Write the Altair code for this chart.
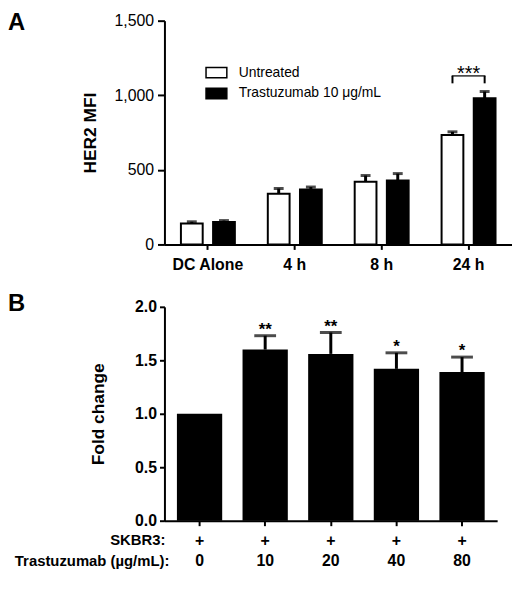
import altair as alt
import pandas as pd

FONT = "Liberation Sans, Arial, Helvetica, sans-serif"

# ---------------- Panel A data ----------------
times = ["DC Alone", "4 h", "8 h", "24 h"]
groups = ["Untreated", "Trastuzumab 10 μg/mL"]
untreated_mfi = [140, 340, 420, 733]
untreated_err = [12, 35, 42, 22]
trast_mfi = [150, 368, 428, 980]
trast_err = [10, 17, 47, 45]
a_ticks = [0, 500, 1000, 1500]

sig_time = "24 h"
sig_text = "***"
bracket_low = 1080
bracket_high = 1130

# ---------------- Panel B data ----------------
doses = ["0", "10", "20", "40", "80"]
fold = [1.00, 1.60, 1.56, 1.42, 1.39]
fold_err = [0.0, 0.13, 0.20, 0.15, 0.14]
fold_sig = ["", "**", "**", "*", "*"]
skbr3 = ["+", "+", "+", "+", "+"]
b_ticks = [0, 0.5, 1.0, 1.5, 2.0]
row_titles = ["SKBR3:", "Trastuzumab (µg/mL):"]

# ---------------- Tables ----------------
rows = []
for i, t in enumerate(times):
    rows.append({"Time": t, "Group": groups[0], "MFI": untreated_mfi[i],
                 "Upper": untreated_mfi[i] + untreated_err[i]})
    rows.append({"Time": t, "Group": groups[1], "MFI": trast_mfi[i],
                 "Upper": trast_mfi[i] + trast_err[i]})
dfA = pd.DataFrame(rows)
dfBr = pd.DataFrame([{"Time": sig_time, "Group": g, "lo": bracket_low, "hi": bracket_high}
                     for g in groups])
dfStar = pd.DataFrame([{"Time": sig_time, "hi": bracket_high, "label": sig_text}])

dfB = pd.DataFrame({"Dose": doses, "Fold": fold,
                    "Upper": [f + e for f, e in zip(fold, fold_err)],
                    "Err": fold_err, "Sig": fold_sig, "Plus": skbr3})

# ---------------- Panel A ----------------
HA = 226
WA = 351
xA = alt.X("Time:N", sort=times, scale=alt.Scale(paddingInner=0, paddingOuter=0),
           axis=alt.Axis(title=None, labelAngle=0, labelFontSize=16, labelFontWeight="bold",
                         tickSize=5, labelPadding=7))
offA = alt.XOffset("Group:N", sort=groups,
                   scale=alt.Scale(domain=groups, paddingInner=0.323, paddingOuter=0.512))
yA_axis = alt.Axis(values=a_ticks, format=",d", labelFontSize=16, labelFontWeight="normal",
                   tickSize=7, labelPadding=4, title="HER2 MFI", titleFontSize=17.5,
                   titleFontWeight="bold", titleX=-70, titleY=HA / 2,
                   titleBaseline="alphabetic")
yA_scale = alt.Scale(domain=[0, 1500])

bars = alt.Chart(dfA).mark_bar(stroke="black", strokeWidth=2).encode(
    x=xA, xOffset=offA,
    y=alt.Y("MFI:Q", scale=yA_scale, axis=yA_axis),
    fill=alt.Fill("Group:N", sort=groups,
                  scale=alt.Scale(domain=groups, range=["white", "black"]),
                  legend=alt.Legend(title=None, orient="none", legendX=41, legendY=41,
                                    symbolType="M-1,-0.5H1V0.5H-1Z", symbolSize=441,
                                    symbolStrokeColor="black", symbolStrokeWidth=1.5,
                                    labelFontSize=14, labelFont=FONT, labelColor="black",
                                    labelOffset=11, rowPadding=1, labelLimit=300)),
)
errA = alt.Chart(dfA).mark_rule(strokeWidth=3, color="black").encode(
    x=xA, xOffset=offA,
    y=alt.Y("MFI:Q", scale=yA_scale, axis=yA_axis), y2="Upper:Q")
capA = alt.Chart(dfA).mark_tick(size=10, thickness=3, color="black").encode(
    x=xA, xOffset=offA,
    y=alt.Y("Upper:Q", scale=yA_scale, axis=yA_axis))
legs = alt.Chart(dfBr).mark_rule(strokeWidth=2, color="black").encode(
    x=xA, xOffset=offA,
    y=alt.Y("lo:Q", scale=yA_scale, axis=yA_axis), y2="hi:Q")
top = alt.Chart(dfStar).mark_tick(size=34, thickness=2, color="black").encode(
    x=xA, y=alt.Y("hi:Q", scale=yA_scale, axis=yA_axis))
starsA = alt.Chart(dfStar).mark_text(fontSize=20, font=FONT, baseline="alphabetic",
                                     dy=4, color="black").encode(
    x=xA, y=alt.Y("hi:Q", scale=yA_scale, axis=yA_axis), text="label:N")
labelA = alt.Chart(pd.DataFrame({"t": ["A"]})).mark_text(
    align="left", baseline="top", fontSize=24, fontWeight="bold", font=FONT,
    color="black").encode(text="t:N", x=alt.value(-158), y=alt.value(-10))

panelA = alt.layer(bars, errA, capA, legs, top, starsA, labelA).properties(
    width=WA, height=HA)

# ---------------- Panel B ----------------
HB = 216
WB = 336
xB = alt.X("Dose:N", sort=doses, scale=alt.Scale(paddingInner=0.31, paddingOuter=0.19),
           axis=alt.Axis(title=None, labels=False, tickSize=5))
yB_scale = alt.Scale(domain=[0, 2])
yB_axis = alt.Axis(values=b_ticks, format=".1f", labelFontSize=16, labelFontWeight="bold",
                   tickSize=5, labelPadding=3, title="Fold change", titleFontSize=17.5,
                   titleFontWeight="bold", titleX=-61.5, titleY=HB / 2,
                   titleBaseline="alphabetic")

barsB = alt.Chart(dfB).mark_bar(color="black").encode(
    x=xB, y=alt.Y("Fold:Q", scale=yB_scale, axis=yB_axis))
errB = alt.Chart(dfB).transform_filter("datum.Err > 0").mark_rule(
    strokeWidth=3, color="black").encode(
    x=xB, y=alt.Y("Fold:Q", scale=yB_scale, axis=yB_axis), y2="Upper:Q")
capB = alt.Chart(dfB).transform_filter("datum.Err > 0").mark_tick(
    size=22, thickness=3, color="black").encode(
    x=xB, y=alt.Y("Upper:Q", scale=yB_scale, axis=yB_axis))
starsB = alt.Chart(dfB).transform_filter("datum.Sig != ''").mark_text(
    fontSize=17, fontWeight="bold", font=FONT, baseline="alphabetic", dy=-1,
    color="black").encode(
    x=xB, y=alt.Y("Upper:Q", scale=yB_scale, axis=yB_axis), text="Sig:N")
plusRow = alt.Chart(dfB).mark_text(
    fontSize=16, fontWeight="bold", font=FONT, baseline="alphabetic",
    color="black").encode(x=xB, y=alt.value(HB + 26), text="Plus:N")
doseRow = alt.Chart(dfB).mark_text(
    fontSize=16, fontWeight="bold", font=FONT, baseline="alphabetic",
    color="black").encode(x=xB, y=alt.value(HB + 46), text="Dose:N")
labelB = alt.Chart(pd.DataFrame({"t": ["B"]})).mark_text(
    align="left", baseline="top", fontSize=24, fontWeight="bold", font=FONT,
    color="black").encode(text="t:N", x=alt.value(-158), y=alt.value(-15))
rowLab1 = alt.Chart(pd.DataFrame({"t": [row_titles[0]]})).mark_text(
    align="right", baseline="alphabetic", fontSize=15, fontWeight="bold", font=FONT,
    color="black").encode(text="t:N", x=alt.value(1), y=alt.value(HB + 25))
rowLab2 = alt.Chart(pd.DataFrame({"t": [row_titles[1]]})).mark_text(
    align="right", baseline="alphabetic", fontSize=15, fontWeight="bold", font=FONT,
    color="black").encode(text="t:N", x=alt.value(5), y=alt.value(HB + 46))

panelB = alt.layer(barsB, errB, capB, starsB, plusRow, doseRow, labelB,
                   rowLab1, rowLab2).properties(width=WB, height=HB)

chart = alt.vconcat(panelA, panelB, spacing=20, padding=0).configure_view(
    strokeWidth=0
).configure_axis(
    domainColor="black", domainWidth=2, tickColor="black", tickWidth=2,
    labelColor="black", titleColor="black", grid=False, labelFont=FONT, titleFont=FONT
).configure_text(font=FONT)

chart.save("out.html", embed_options={"renderer": "svg", "actions": False})
